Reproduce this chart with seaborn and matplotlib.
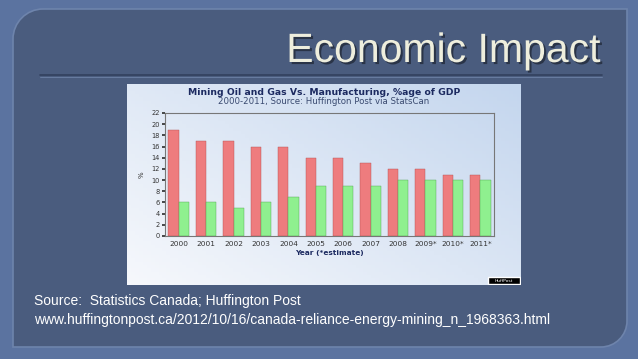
import numpy as np
import pandas as pd
import seaborn as sns
import matplotlib.pyplot as plt
from matplotlib.patches import PathPatch, Rectangle
from matplotlib.path import Path
import matplotlib.patheffects as pe

years = ['2000', '2001', '2002', '2003', '2004', '2005', '2006', '2007', '2008', '2009*', '2010*', '2011*']
manufacturing = [19, 17, 17, 16, 16, 14, 14, 13, 12, 12, 11, 11]
mining = [6, 6, 5, 6, 7, 9, 9, 9, 10, 10, 10, 10]
series = ['Manufacturing', 'Mining, Oil and Gas']
colors = ['#ee7c7e', '#8ff08f']

df = pd.DataFrame({
    'year': years * 2,
    'value': manufacturing + mining,
    'series': [series[0]] * len(years) + [series[1]] * len(years),
})

sns.set_theme(style='white')
plt.rcParams['font.family'] = ['Liberation Sans', 'DejaVu Sans']
chart_font = 'DejaVu Sans'

W, H = 638, 359
fig = plt.figure(figsize=(W / 100, H / 100), dpi=100, facecolor='#5b73a0')

# slide panel: rounded top-left and bottom-right corners
bg = fig.add_axes([0, 0, 1, 1])
bg.set_xlim(0, W)
bg.set_ylim(H, 0)
bg.axis('off')
x0, y0, x1, y1, r1, r2 = 13, 9, 627, 347, 30, 26
k = 0.55
verts = [(x0 + r1, y0), (x1, y0), (x1, y1 - r2),
         (x1, y1 - r2 + k * r2), (x1 - r2 + k * r2, y1), (x1 - r2, y1),
         (x0, y1), (x0, y0 + r1),
         (x0, y0 + r1 - k * r1), (x0 + r1 - k * r1, y0), (x0 + r1, y0)]
codes = [Path.MOVETO, Path.LINETO, Path.LINETO, Path.CURVE4, Path.CURVE4, Path.CURVE4,
         Path.LINETO, Path.LINETO, Path.CURVE4, Path.CURVE4, Path.CURVE4]
bg.add_patch(PathPatch(Path(verts, codes), fc='#4a5c7e', ec='#6e84ac', lw=1.2))
bg.plot([40, 602], [75, 75], color='#33415e', lw=1.2)
bg.plot([40, 602], [76.5, 76.5], color='#6d82a6', lw=0.6)
bg.text(601, 62, 'Economic Impact', ha='right', va='baseline', fontsize=29.5,
        color='#eeeedd', path_effects=[pe.withSimplePatchShadow(offset=(1.5, -1.5), shadow_rgbFace='#222a3a', alpha=0.8)])
bg.text(34, 305, 'Source:  Statistics Canada; Huffington Post', fontsize=10, color='white', va='baseline')
bg.text(34, 324, 'www.huffingtonpost.ca/2012/10/16/canada-reliance-energy-mining_n_1968363.html',
        fontsize=10, color='white', va='baseline')

# chart image background
cx0, cy0, cx1, cy1 = 127, 84, 521, 285
img = fig.add_axes([cx0 / W, 1 - cy1 / H, (cx1 - cx0) / W, (cy1 - cy0) / H])
gx, gy = np.meshgrid(np.linspace(0, 1, 100), np.linspace(0, 1, 60))
grad = 0.55 * gx + 0.45 * (1 - gy)
img.imshow(grad, cmap=sns.blend_palette(['#f6f8fc', '#c4d6ee'], as_cmap=True), aspect='auto',
           extent=[0, 1, 0, 1], origin='upper')
img.set_xlim(0, 1)
img.set_ylim(0, 1)
img.axis('off')
img.add_patch(Rectangle((0.915, 0.005), 0.083, 0.035, fc='black', transform=img.transAxes))
img.text(0.956, 0.022, 'HuffPost', fontsize=3.2, color='white', ha='center', va='center',
         family=chart_font, transform=img.transAxes)
img.text(0.5, 0.958, 'Mining Oil and Gas Vs. Manufacturing, %age of GDP', ha='center', va='center',
         fontsize=6.7, fontweight='bold', color='#1c2a60', family=chart_font, transform=img.transAxes)
img.text(0.5, 0.912, '2000-2011, Source: Huffington Post via StatsCan', ha='center', va='center',
         fontsize=6.2, color='#3a4a70', family=chart_font, transform=img.transAxes)

# bar chart
ax = fig.add_axes([165 / W, 1 - 236 / H, (494 - 165) / W, (236 - 113) / H])
ax.patch.set_alpha(0)
sns.barplot(data=df, x='year', y='value', hue='series', palette=colors, width=0.75,
            saturation=1, ax=ax, edgecolor='#b05050', linewidth=0.3, legend=False)
for bar in ax.patches[len(years):]:
    bar.set_edgecolor('#50a050')
ax.set_ylim(0, 22)
ax.set_yticks(range(0, 23, 2))
ax.tick_params(axis='both', labelsize=5.3, colors='#333333', length=2, pad=1.5, left=True, bottom=False)
ax.tick_params(axis='y', labelsize=4.8)
for t in ax.get_xticklabels() + ax.get_yticklabels():
    t.set_family(chart_font)
ax.set_ylabel('%', fontsize=5, color='#333333', labelpad=5, family=chart_font)
ax.set_xlabel('Year (*estimate)', fontsize=5.3, fontweight='bold', color='#1c2a60',
              labelpad=2, family=chart_font)
for s in ax.spines.values():
    s.set_color('#777777')
    s.set_linewidth(0.8)

# legend
for i, (lab, c) in enumerate(zip(series, colors)):
    lx = 170 + i * 85
    bg.add_patch(Rectangle((lx, 263), 6, 6, fc=c, ec='#555555', lw=0.4))
    bg.text(lx + 10, 266, lab, fontsize=5.2, color='#333333', va='center', family=chart_font)

fig.savefig('out.png', dpi=100, facecolor=fig.get_facecolor())
